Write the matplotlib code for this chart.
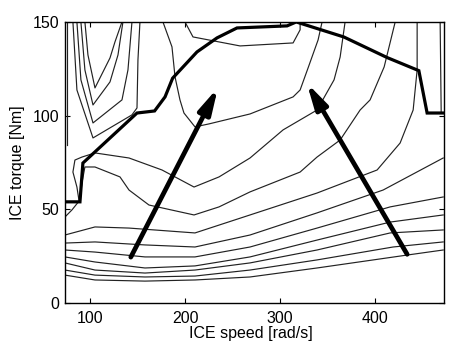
import matplotlib
matplotlib.use("Agg")
import matplotlib.pyplot as plt

plt.rcParams['font.family'] = ['Liberation Sans', 'DejaVu Sans']

# ---- axes ranges / ticks ----
x_range = (73.7, 472.6)
y_range = (0, 150)
x_ticks = [100, 200, 300, 400]
y_ticks = [0, 50, 100, 150]
x_label = "ICE speed [rad/s]"
y_label = "ICE torque [Nm]"

# ---- maximum torque curve (thick line) ----
max_torque_speed = [73.7, 89.5, 92.6, 149.5, 168, 179, 187, 212.6, 233.7, 254.7,
                    307.4, 317, 367, 412.6, 446, 454.7, 473]
max_torque_value = [54, 54, 74.7, 101.4, 102.5, 110, 120, 134, 141.5, 146.8,
                    147.9, 150, 142, 131, 124, 101.4, 101.4]

# ---- efficiency contour lines (speed list, torque list) ----
u1_x = [94.7, 97.9, 105.3, 121.1, 126.3, 133.7]
u1_y = [150, 132.4, 114.8, 130.8, 139.3, 150]
u2_x = [90.5, 94.7, 103.2, 121.1, 129.5, 134.7]
u2_y = [150, 124.4, 105.7, 118, 132.4, 150]
u3_x = [86.3, 90.5, 103.2, 133.7, 140, 144.2]
u3_y = [150, 119.1, 96.1, 108.4, 124.4, 150]
u4_x = [82.1, 86.3, 103.2, 144.2, 149.5, 150.5, 152.6]
u4_y = [150, 113.7, 88.1, 100.4, 104.1, 129.7, 150]
left_x = [75.8, 75.8]
left_y = [150, 84.4]
right_x = [468.4, 469.5]
right_y = [150, 101.4]
top_x = [200, 208.4, 257.9, 313.7, 321.1, 321.1]
top_y = [150, 142, 137.2, 138.8, 145.8, 150]
ca_x = [176.8, 186.3, 189.5, 194.7, 198.9, 210.5, 225.3, 268.4, 313.7, 321.1, 329.5, 340, 344.2]
ca_y = [150, 136.7, 120.7, 108.4, 101.4, 94, 95.6, 100.9, 110, 113.7, 125.5, 140.4, 150]
cb_x = [368.4, 363.2, 356.8, 338.9, 303.2, 268.4, 235.8, 209.5, 175.8, 141.1, 105.3,
        91.6, 84.2, 82.1, 86.3, 88.4]
cb_y = [150, 131.3, 119.1, 103, 92.4, 77.4, 67.3, 61.9, 71, 77.4, 80.1,
        77.9, 76.3, 69.9, 61.9, 55]
cc_x = [421.1, 409.5, 394.7, 384.2, 363.2, 338.9, 321.1, 268.4, 235.8, 209.5, 162.1,
        141.1, 131.6, 105.3, 94.7, 91.6, 89.5, 81.1, 73.7]
cc_y = [150, 126, 108.4, 103, 87, 77.9, 69.9, 59.3, 51.3, 47, 52.3,
        60.3, 67.3, 72.6, 72.6, 64.1, 55, 49.7, 45.9]
cd_x = [444.2, 444.2, 440, 426.3, 402.1, 338.9, 268.4, 210.5, 141.1, 105.3, 73.7]
cd_y = [150, 124.4, 103, 85.4, 71, 58.7, 47, 37.4, 40, 40.6, 36.3]
ce_x = [471.6, 408.4, 338.9, 268.4, 210.5, 157.9, 105.3, 73.7]
ce_y = [77.4, 60.3, 48.1, 36.3, 29.9, 31, 32.6, 32]
cf_x = [471.6, 415.8, 338.9, 268.4, 210.5, 157.9, 105.3, 73.7]
cf_y = [56.6, 51.3, 40, 29.9, 24.6, 24.6, 27.2, 28.3]
cg_x = [471.6, 415.8, 338.9, 268.4, 210.5, 157.9, 105.3, 73.7]
cg_y = [47, 43.2, 33.6, 24.6, 19.8, 18.7, 21.9, 24.6]
ch_x = [471.6, 415.8, 338.9, 268.4, 210.5, 157.9, 105.3, 73.7]
ch_y = [39, 37.4, 28.3, 21.4, 17.6, 16, 17.6, 21.4]
ci_x = [471.6, 418.9, 338.9, 268.4, 210.5, 157.9, 105.3, 73.7]
ci_y = [32.6, 29.9, 23, 17.6, 14.4, 13.9, 14.9, 17.6]
cj_x = [471.6, 433.7, 338.9, 268.4, 210.5, 157.9, 105.3, 73.7]
cj_y = [28.3, 25.6, 18.7, 13.9, 12.3, 11.7, 12.3, 14.9]

contours = [(u1_x, u1_y), (u2_x, u2_y), (u3_x, u3_y), (u4_x, u4_y),
            (left_x, left_y), (right_x, right_y), (top_x, top_y),
            (ca_x, ca_y), (cb_x, cb_y), (cc_x, cc_y), (cd_x, cd_y),
            (ce_x, ce_y), (cf_x, cf_y), (cg_x, cg_y), (ch_x, ch_y),
            (ci_x, ci_y), (cj_x, cj_y)]

# ---- arrows (tail -> head) ----
arrow_tails = [(143, 24.5), (433.7, 26)]
arrow_heads = [(234.7, 115), (328, 117.5)]

fig = plt.figure(figsize=(4.74, 3.54), dpi=100)
ax = fig.add_axes([0.137, 0.144, 0.800, 0.794])

for cx, cy in contours:
    ax.plot(cx, cy, color='#222222', lw=0.85, solid_joinstyle='round')

ax.plot(max_torque_speed, max_torque_value, color='black', lw=2.3, solid_joinstyle='miter')

for (tx, ty), (hx, hy) in zip(arrow_tails, arrow_heads):
    ax.annotate('', xy=(hx, hy), xytext=(tx, ty),
                arrowprops=dict(arrowstyle='-|>,head_length=0.95,head_width=0.24',
                                lw=3.4, color='black', mutation_scale=16,
                                shrinkA=0, shrinkB=0))

ax.set_xlim(*x_range)
ax.set_ylim(*y_range)
ax.set_xticks(x_ticks)
ax.set_yticks(y_ticks)
ax.tick_params(direction='in', top=True, right=True, length=3.5, width=0.8,
               labelsize=11.5)
ax.tick_params(axis='x', pad=6)
ax.tick_params(axis='y', pad=4)
for s in ax.spines.values():
    s.set_linewidth(1.0)
ax.set_xlabel(x_label, fontsize=11.5)
ax.set_ylabel(y_label, fontsize=11.5)
ax.xaxis.set_label_coords(0.49, -0.083)
ax.yaxis.set_label_coords(-0.105, 0.5)

fig.savefig('out.png', dpi=100)
